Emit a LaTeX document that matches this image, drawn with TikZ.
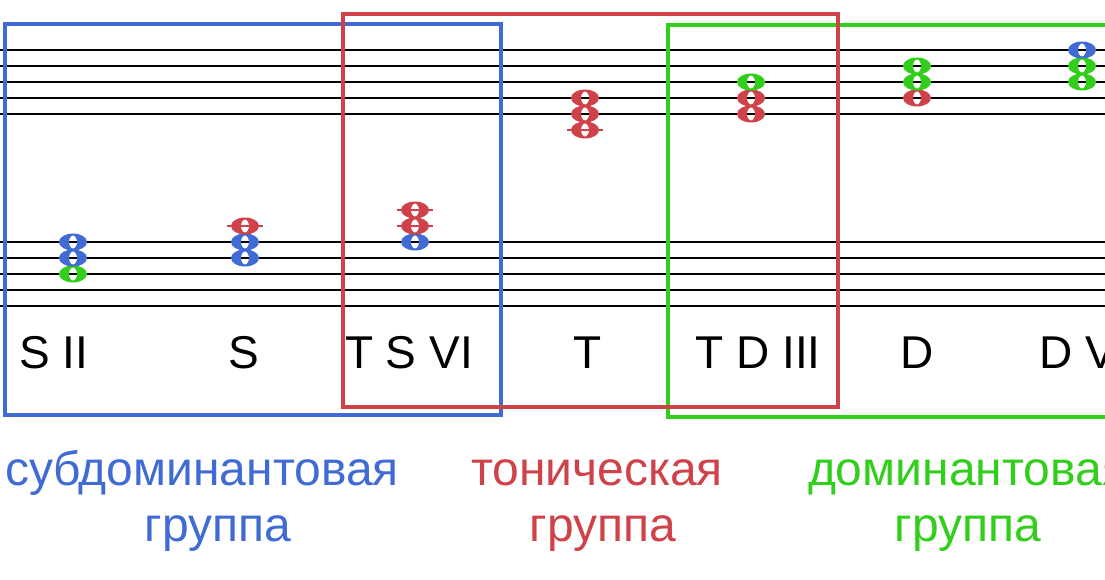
\documentclass[tikz,border=0pt]{standalone}
\usepackage{fontspec}
\setmainfont{Liberation Sans}
\definecolor{subdom}{RGB}{64,107,212}
\definecolor{tonic}{RGB}{208,66,74}
\definecolor{dom}{RGB}{50,206,28}

\begin{document}
\begin{tikzpicture}[
  staffline/.style={line width=1.6pt},
  groupbox/.style={line width=4pt},
  chordname/.style={font=\fontsize{46}{46}\selectfont,inner sep=0pt,anchor=base},
  groupname/.style={font=\fontsize{48}{48}\selectfont,inner sep=0pt,anchor=base},
  note/.pic={\fill[even odd rule] (0pt,0pt) ellipse [x radius=14pt,y radius=8.5pt]
    (0pt,0pt) ellipse [x radius=4pt,y radius=6.5pt];},
  lnote/.pic={\draw[line width=2pt] (-18pt,0pt) -- (18pt,0pt);
    \fill[even odd rule] (0pt,0pt) ellipse [x radius=14pt,y radius=8.5pt]
    (0pt,0pt) ellipse [x radius=4pt,y radius=6.5pt];}]
  \useasboundingbox (0pt,0pt) rectangle (1105pt,-580pt);
  \clip (0pt,0pt) rectangle (1105pt,-580pt);
  % staves
  \foreach \y in {-50,-66,-82,-98,-114,-242,-258,-274,-290,-306}
    \draw[staffline] (0pt,\y pt) -- (1105pt,\y pt);
  % chords
  \pic[dom] at (73.0pt, -274.0pt) {note};
  \pic[subdom] at (73.0pt, -258.0pt) {note};
  \pic[subdom] at (73.0pt, -242.0pt) {note};
  \pic[subdom] at (245.0pt, -258.0pt) {note};
  \pic[subdom] at (245.0pt, -242.0pt) {note};
  \pic[tonic] at (245.0pt, -226.0pt) {lnote};
  \pic[subdom] at (415.0pt, -242.0pt) {note};
  \pic[tonic] at (415.0pt, -226.0pt) {lnote};
  \pic[tonic] at (415.0pt, -210.0pt) {lnote};
  \pic[tonic] at (585.0pt, -130.0pt) {lnote};
  \pic[tonic] at (585.0pt, -114.0pt) {note};
  \pic[tonic] at (585.0pt, -98.0pt) {note};
  \pic[tonic] at (751.0pt, -114.0pt) {note};
  \pic[tonic] at (751.0pt, -98.0pt) {note};
  \pic[dom] at (751.0pt, -82.0pt) {note};
  \pic[tonic] at (917.0pt, -98.0pt) {note};
  \pic[dom] at (917.0pt, -82.0pt) {note};
  \pic[dom] at (917.0pt, -66.0pt) {note};
  \pic[dom] at (1082.0pt, -82.0pt) {note};
  \pic[dom] at (1082.0pt, -66.0pt) {note};
  \pic[subdom] at (1082.0pt, -50.0pt) {note};
  % function names
  \draw (54.0pt, -368.0pt)node[chordname](sii){S II};
  \draw (244.0pt, -368.0pt)node[chordname](s){S};
  \draw (409.0pt, -368.0pt)node[chordname](tsvi){T S VI};
  \draw (588.0pt, -368.0pt)node[chordname](t){T};
  \draw (758.0pt, -368.0pt)node[chordname](tdiii){T D III};
  \draw (917.0pt, -368.0pt)node[chordname](d){D};
  \draw (1039.0pt, -368.0pt)node[chordname,anchor=base west](dvii){D VII};
  % groups
  \draw[groupbox,subdom] (5pt,-24pt) rectangle (501pt,-415pt);
  \draw[groupbox,dom] (668pt,-25pt) rectangle (1125pt,-417pt);
  \draw[groupbox,tonic] (343pt,-14pt) rectangle (838pt,-407pt);
  \draw (202.0pt, -485.0pt)node[groupname,subdom](subdom1){субдоминантовая};
  \draw (218.0pt, -541.0pt)node[groupname,subdom](subdom2){группа};
  \draw (597.0pt, -485.0pt)node[groupname,tonic](tonic1){тоническая};
  \draw (603.0pt, -541.0pt)node[groupname,tonic](tonic2){группа};
  \draw (968.0pt, -485.0pt)node[groupname,dom](dom1){доминантовая};
  \draw (968.0pt, -541.0pt)node[groupname,dom](dom2){группа};
\end{tikzpicture}
\end{document}
